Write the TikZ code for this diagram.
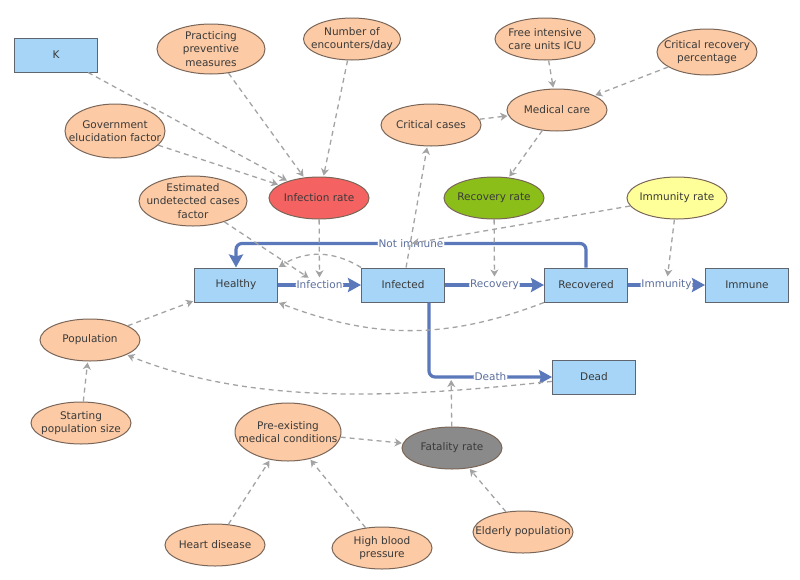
\documentclass[tikz,border=0pt]{standalone}
\usepackage{fontspec}
\setmainfont{DejaVu Sans}
\usepackage{tikz}
\usetikzlibrary{positioning, shapes.geometric, arrows.meta}

\definecolor{boxfill}{HTML}{A6D5F7}
\definecolor{boxline}{HTML}{5F6670}
\definecolor{peach}{HTML}{FCCAA4}
\definecolor{peachline}{HTML}{7A6658}
\definecolor{flowblue}{HTML}{5B78BA}
\definecolor{depgray}{HTML}{A3A3A3}
\definecolor{inflred}{HTML}{F56262}
\definecolor{recgreen}{HTML}{8CBE1A}
\definecolor{immyellow}{HTML}{FFFF99}
\definecolor{fatgray}{HTML}{8A8A8A}
\definecolor{txtgray}{HTML}{3A3A3A}
\definecolor{flowtxt}{HTML}{5C6F9E}

\begin{document}
\begin{tikzpicture}[x=1pt, y=1pt,
    font=\fontsize{10.5}{13.5}\selectfont, text=txtgray,
    stock/.style={draw=boxline, fill=boxfill, line width=1pt, minimum width=83pt, minimum height=34pt, inner sep=0pt},
    aux/.style={ellipse, draw=peachline, fill=peach, line width=1pt, minimum width=100pt, minimum height=42pt, inner sep=0pt},
    txt/.style={align=center, inner sep=0pt},
    flow/.style={draw=flowblue, line width=3.2pt, rounded corners=6pt, -{Stealth[length=13pt, width=14pt, inset=2pt]}},
    flowlabel/.style={fill=white, text=flowtxt, inner sep=1pt},
    dep/.style={draw=depgray, line width=1.3pt, dash pattern=on 5pt off 4pt, -{Stealth[length=7pt, width=8pt, inset=2pt]}, shorten >=1pt}
  ]
    \useasboundingbox (0,0) rectangle (800,-579);

    % Stocks
    \node[stock] (k) at (56,-55) {K};
    \node[stock] (healthy) at (236,-285) {Healthy};
    \node[stock, right=83pt of healthy] (infected) {Infected};
    \node[stock, right=99pt of infected] (recovered) {Recovered};
    \node[stock, right=77pt of recovered] (immune) {Immune};
    \node[stock] (dead) at (594,-377) {Dead};

    % Auxiliaries
    \node[aux, minimum width=108pt, minimum height=50pt, label={[txt]center:{Practicing\\preventive\\measures}}] (practice) at (211,-49) {};
    \node[aux, minimum width=97pt, label={[txt]center:{Number of\\encounters/day}}] (encounters) at (352,-39) {};
    \node[aux, minimum height=54pt, label={[txt]center:{Government\\elucidation factor}}] (govfactor) at (115,-131) {};
    \node[aux, fill=inflred, label={[txt]center:Infection rate}] (infrate) at (319,-198) {};
    \node[aux, minimum width=108pt, minimum height=50pt, label={[txt]center:{Estimated\\undetected cases\\factor}}] (undetected) at (193,-201) {};
    \node[aux, label={[txt]center:{Free intensive\\care units ICU}}] (icu) at (545,-39) {};
    \node[aux, minimum height=46pt, label={[txt]center:{Critical recovery\\percentage}}] (critrec) at (707,-52) {};
    \node[aux, label={[txt]center:Medical care}] (medcare) at (557,-110) {};
    \node[aux, label={[txt]center:Critical cases}] (critcases) at (431,-125) {};
    \node[aux, fill=recgreen, label={[txt]center:Recovery rate}] (recrate) at (494,-198) {};
    \node[aux, fill=immyellow, label={[txt]center:Immunity rate}] (immrate) at (677,-198) {};
    \node[aux, label={[txt]center:Population}] (population) at (90,-340) {};
    \node[aux, label={[txt]center:{Starting\\population size}}] (startpop) at (81,-423) {};
    \node[aux, minimum width=106pt, minimum height=58pt, label={[txt]center:{Pre-existing\\medical conditions}}] (preexist) at (288,-432) {};
    \node[aux, fill=fatgray, label={[txt]center:Fatality rate}] (fatrate) at (452,-448) {};
    \node[aux, label={[txt]center:Heart disease}] (heart) at (215,-545) {};
    \node[aux, label={[txt]center:{High blood\\pressure}}] (highbp) at (382,-548) {};
    \node[aux, label={[txt]center:Elderly population}] (elderly) at (523,-532) {};

    % Flows
    \draw[flow] (healthy) -- node[flowlabel] (infection) {Infection} (infected);
    \draw[flow] (infected) -- node[flowlabel] (recovery) {Recovery} (recovered);
    \draw[flow] (recovered) -- node[flowlabel] (immunity) {Immunity} (immune);
    \draw[flow] ([xshift=26pt]infected.south) |- node[flowlabel, pos=0.75] (death) {Death} coordinate[pos=0.59] (deathpt) (dead.west);
    \draw[flow] (recovered.north) -- ++(0,24) -| node[flowlabel, pos=0.25] (notimmune) {Not immune} (healthy.north);

    % Dependencies
    \draw[dep] (k) -- (infrate);
    \draw[dep] (govfactor) -- (infrate);
    \draw[dep] (practice) -- (infrate);
    \draw[dep] (encounters) -- (infrate);
    \draw[dep] (infrate) -- (infection);
    \draw[dep] (undetected) -- (infection);
    \draw[dep] (infected.north west) to[bend right=32] (healthy.north east);
    \draw[dep] (recovered.south west) to[bend left=21] (healthy.south east);
    \draw[dep] (dead) to[out=186, in=-22, looseness=0.85] (population);
    \draw[dep] (population) -- (healthy);
    \draw[dep] (startpop) -- (population);
    \draw[dep] (infected) -- (critcases);
    \draw[dep] (critcases) -- (medcare);
    \draw[dep] (icu) -- (medcare);
    \draw[dep] (critrec) -- (medcare);
    \draw[dep] (medcare) -- (recrate);
    \draw[dep] (recrate) -- (recovery);
    \draw[dep] (immrate) -- (notimmune.center);
    \draw[dep] (immrate) -- (immunity);
    \draw[dep, shorten >=3pt] (fatrate) -- (deathpt);
    \draw[dep] (preexist) -- (fatrate);
    \draw[dep] (heart) -- (preexist);
    \draw[dep] (highbp) -- (preexist);
    \draw[dep] (elderly) -- (fatrate);
\end{tikzpicture}
\end{document}
